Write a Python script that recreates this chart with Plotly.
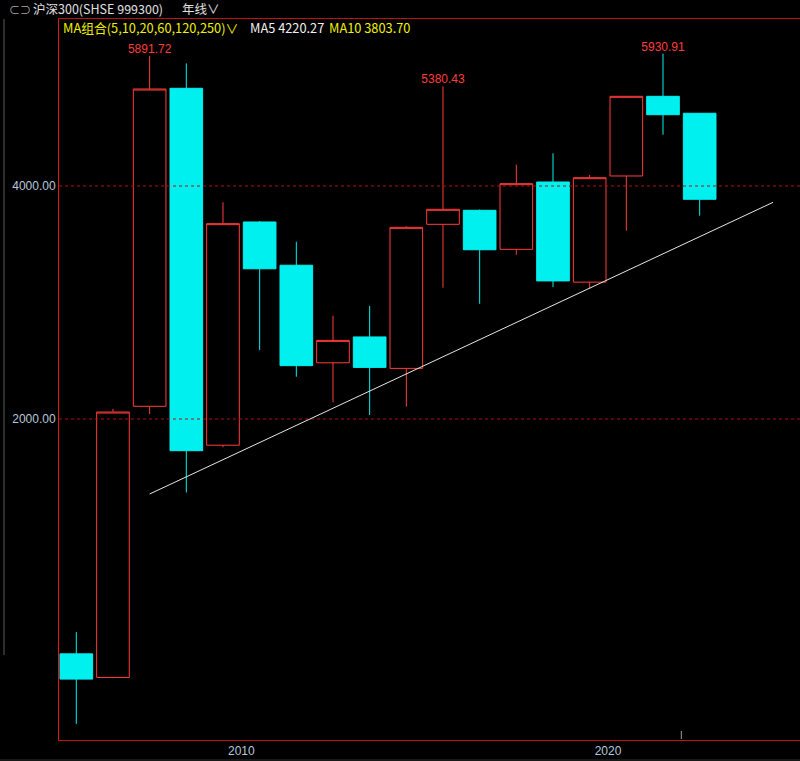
import plotly.graph_objects as go

# ---- data (yearly candles, CSI 300) ----
years = list(range(2005, 2023))
open_ = [994.5, 927, 2077, 5349, 1850, 3594, 3160, 2364, 2553, 2325, 3569, 3721, 3313, 4048, 3005, 4121, 5223, 4966]
high = [1061, 2061, 5891.72, 5760, 3811, 3604, 3389, 2720, 2799, 3548, 5380.43, 3730, 4262, 4408, 4133, 5230, 5930.91, 4970]
low = [807.5, 925, 2030, 1607, 1839, 2456, 2268, 2102, 2024, 2075, 2956, 2818, 3260, 2962, 2947, 3502, 4660, 3662]
close = [922.5, 2042, 5338, 1820, 3576, 3127, 2344, 2527, 2332, 3537, 3732, 3309, 4028, 3016, 4100, 5223, 4945, 3845]

peak_years = [2007, 2015, 2021]
peak_values = [5891.72, 5380.43, 5930.91]
peak_labels = ["5891.72", "5380.43", "5930.91"]

trend_x = [2007, 2024]
trend_y = [1600, 3810]

grid_values = [2000, 4000]
y_ticktext = ["2000.00", "4000.00"]
x_tickvals = [2009.5, 2019.5]
x_ticktext = ["2010", "2020"]

X_RANGE = [2004.528, 2024.736]
Y_RANGE = [2.88631, 3.81782]

UP = "#ff3c3c"
DOWN = "#00f0f0"
AXIS_TXT = "#b8c8d8"

fig = go.Figure()

# dashed grid lines
for gv in grid_values:
    fig.add_trace(go.Scatter(x=X_RANGE, y=[gv, gv], mode="lines",
                             line=dict(color="#b01010", width=1, dash="3px,3px"),
                             hoverinfo="skip", showlegend=False))

fig.add_trace(go.Candlestick(
    x=years, open=open_, high=high, low=low, close=close,
    increasing=dict(line=dict(color=UP, width=1), fillcolor="#000000"),
    decreasing=dict(line=dict(color=DOWN, width=1), fillcolor=DOWN),
    whiskerwidth=0, showlegend=False))

# trend line
fig.add_trace(go.Scatter(x=trend_x, y=trend_y, mode="lines",
                         line=dict(color="#e6e6e6", width=1),
                         hoverinfo="skip", showlegend=False))

# peak labels
fig.add_trace(go.Scatter(x=peak_years, y=peak_values, mode="text",
                         text=peak_labels, textposition="top center",
                         textfont=dict(color=UP, size=12, family="Liberation Sans, Arial"),
                         hoverinfo="skip", showlegend=False))

fig.update_layout(
    width=800, height=761,
    margin=dict(l=59, r=0, t=19, b=21),
    paper_bgcolor="#000000", plot_bgcolor="#000000",
    boxgap=0.11, boxgroupgap=0, boxmode="overlay",
    showlegend=False,
    xaxis=dict(range=X_RANGE, showgrid=False, zeroline=False,
               tickvals=x_tickvals, ticktext=x_ticktext, ticks="",
               tickfont=dict(color=AXIS_TXT, size=12, family="Liberation Sans, Arial"),
               showline=True, linecolor="#c01010", linewidth=1, mirror=True,
               rangeslider=dict(visible=False), fixedrange=True),
    yaxis=dict(type="log", range=Y_RANGE, showgrid=False, zeroline=False,
               tickvals=grid_values, ticktext=y_ticktext, ticks="",
               tickfont=dict(color=AXIS_TXT, size=12, family="Liberation Sans, Arial"),
               showline=True, linecolor="#e01818", linewidth=1, mirror=False,
               fixedrange=True),
)

def px_x(p):
    return (p - 59) / 741.0

def px_y(p):
    return (740 - p) / 721.0

# left panel border and bottom strip
fig.add_shape(type="line", xref="paper", yref="paper", x0=px_x(4), x1=px_x(4),
              y0=px_y(19), y1=px_y(655), line=dict(color="#5a5a5a", width=1))
fig.add_shape(type="line", xref="paper", yref="paper", x0=px_x(0), x1=1,
              y0=px_y(760), y1=px_y(760), line=dict(color="#303030", width=1))
# small marker tick at bottom
fig.add_shape(type="line", xref="x", yref="paper", x0=2021.5, x1=2021.5,
              y0=px_y(739), y1=px_y(731), line=dict(color="#a0a0a0", width=1))

CJK = "Noto Sans CJK SC"
def header(text, x_px, y_px, color, size=12.5):
    fig.add_annotation(text=text, xref="paper", yref="paper",
                       x=px_x(x_px), y=px_y(y_px), xanchor="left", yanchor="middle",
                       showarrow=False, borderpad=0,
                       font=dict(family=CJK, size=size, color=color))

header("⊂⊃", 8, 8.5, "#a8a8a8", 11)
header("沪深300(SHSE 999300)", 32, 8.5, "#e0e0e0")
header("年线∨", 181, 8.5, "#e0e0e0")
header("MA组合(5,10,20,60,120,250)∨", 62, 27.5, "#f0f000", 12.8)
header("MA5 4220.27", 249, 27.5, "#f0f0f0", 12.8)
header("MA10 3803.70", 328, 27.5, "#f0f000", 12.8)

fig.write_html("out.html", config={"displayModeBar": False},
               post_script="document.body.style.margin='0px';document.body.style.overflow='hidden';")
